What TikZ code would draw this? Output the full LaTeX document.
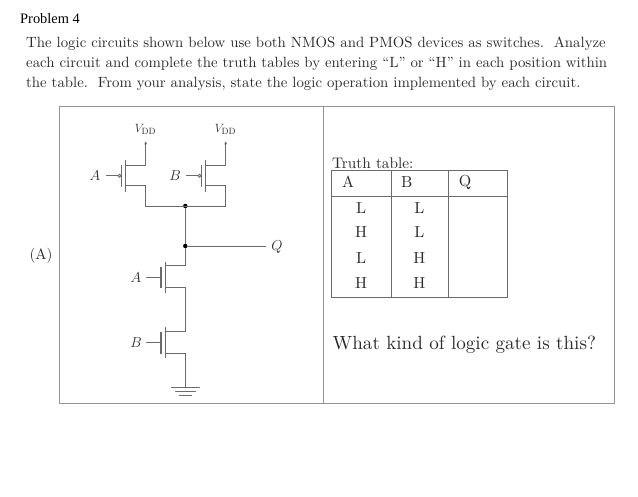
\documentclass[tikz,border=0pt]{standalone}
\usepackage{fontspec}
\setmainfont{lmroman10-regular.otf}
\newfontfamily\timesf{Liberation Serif}
\usetikzlibrary{arrows.meta}
\definecolor{wire}{gray}{0.42}
\definecolor{framec}{gray}{0.58}
\definecolor{ink}{gray}{0.17}
\tikzset{
  wireline/.style={draw=wire,line width=1pt,line cap=round,line join=miter},
  thickbar/.style={draw=wire,line width=1.5pt},
  framebox/.style={draw=framec,line width=1.2pt},
  gridline/.style={draw=wire,line width=1pt},
  junction/.style={circle,fill=black,inner sep=0pt,minimum size=4.5pt},
  lab/.style={inner sep=0pt,text=ink},
  cell/.style={inner sep=0pt,text=ink,font=\fontsize{16}{18}\selectfont},
  para/.style={inner sep=0pt,text=ink,anchor=base west,font=\fontsize{14.83}{17}\selectfont},
  supply/.style={wireline,-{Stealth[length=3pt,width=3pt]}},
  mathlab/.style={lab,font=\fontsize{14}{16}\selectfont},
}
\begin{document}
\begin{tikzpicture}[x=1pt,y=-1pt]
\useasboundingbox[fill=white] (0,0) rectangle (638,496);
% text
\node[lab,anchor=base west,font=\timesf\fontsize{14.4}{16}\selectfont,text=black] (title) at (20,23) {Problem 4};
\node[para] (l1) at (26,47.5) {The logic circuits shown below use both NMOS and PMOS devices as switches.\ \ Analyze};
\node[para] (l2) at (26,67.5) {each circuit and complete the truth tables by entering “L” or “H” in each position within};
\node[para] (l3) at (26,87.5) {the table.\ \ From your analysis, state the logic operation implemented by each circuit.};
% frame
\draw[framebox] (59.5,106.5) rectangle (614.5,403.6);
\draw[framebox] (323.5,106.5) -- (323.5,403.6);
\node[lab,font=\fontsize{15}{17}\selectfont] (caseA) at (41,256) {(A)};
% PMOS A
\coordinate (vddA) at (145.7,141.5);
\coordinate (dA1) at (145.7,165);
\coordinate (cA1) at (125.7,165);
\coordinate (cA2) at (125.7,185.7);
\coordinate (dA2) at (145.7,185.7);
\coordinate (busL) at (145.7,206);
\coordinate (busR) at (225.7,206);
% PMOS B
\coordinate (vddB) at (225.7,141.5);
\coordinate (dB1) at (225.7,165);
\coordinate (cB1) at (205.7,165);
\coordinate (cB2) at (205.7,185.7);
\coordinate (dB2) at (225.7,185.7);
\node[junction] (top) at (185.3,206) {};
\node[junction] (out) at (185.3,246) {};
\coordinate (qend) at (265.7,246);
\draw[supply] (dA1) -- (vddA);
\draw[supply] (dB1) -- (vddB);
\draw[wireline] (cA1) -- (dA1);
\draw[wireline] (cB1) -- (dB1);
\draw[wireline] (cA2) -- (dA2) -- (busL) -- (busR) -- (dB2) -- (cB2);
\draw[wireline] (top) -- (out);
\draw[wireline] (out) -- (qend);
\draw[thickbar] (125.7,160) -- (125.7,191.7);
\draw[thickbar] (205.7,160) -- (205.7,191.7);
\draw[thickbar] (121.7,165) -- (121.7,187);
\draw[thickbar] (201.7,165) -- (201.7,187);
\draw[wireline] (106.5,175.7) -- (117.5,175.7);
\draw[wireline] (186.5,175.7) -- (197.5,175.7);
\draw[wire,line width=0.8pt] (119.5,175.7) circle (1.5);
\draw[wire,line width=0.8pt] (199.5,175.7) circle (1.5);
\node[mathlab] (lA1) at (95,176) {$A$};
\node[mathlab] (lB1) at (175,176) {$B$};
\node[lab,font=\fontsize{13}{15}\selectfont] (v1) at (145.5,129) {$V_{\mathrm{DD}}$};
\node[lab,font=\fontsize{13}{15}\selectfont] (v2) at (225.5,129) {$V_{\mathrm{DD}}$};
\node[mathlab] (lQ) at (277,246.5) {$Q$};
% NMOS stack
\coordinate (n1t) at (185.3,265.7);
\coordinate (n1c) at (165.7,265.7);
\coordinate (n1b) at (185.3,287.7);
\coordinate (n1d) at (165.7,287.7);
\coordinate (n2t) at (185.3,331.7);
\coordinate (n2c) at (165.7,331.7);
\coordinate (n2b) at (185.3,353.3);
\coordinate (n2d) at (165.7,353.3);
\coordinate (gnd) at (185.3,387);
\draw[wireline] (out) -- (n1t) -- (n1c);
\draw[wireline] (n1d) -- (n1b) -- (n2t) -- (n2c);
\draw[wireline] (n2d) -- (n2b) -- (gnd);
\draw[thickbar] (165.7,261.7) -- (165.7,292.7);
\draw[thickbar] (165.7,327.3) -- (165.7,357.7);
\draw[thickbar] (161,266.7) -- (161,288.3);
\draw[thickbar] (161,332.3) -- (161,354);
\draw[wireline] (146.7,277.3) -- (161,277.3);
\draw[wireline] (146.7,342.5) -- (161,342.5);
\node[mathlab] (lA2) at (136,277.5) {$A$};
\node[mathlab] (lB2) at (136,343) {$B$};
\draw[wireline] (171.5,387) -- (199.5,387);
\draw[wireline] (175.5,391) -- (195.5,391);
\draw[wireline] (179.5,395) -- (191.5,395);
% table
\node[lab,anchor=base west,font=\fontsize{15.3}{17}\selectfont] (tt) at (332,168.5) {Truth table:};
\draw[gridline] (331.7,170) rectangle (507.7,297.3);
\draw[gridline] (331.7,196) -- (507.7,196);
\draw[gridline] (391,170) -- (391,297.3);
\draw[gridline] (448.7,170) -- (448.7,297.3);
\node[cell] (hA) at (348,182) {A};
\node[cell] (hB) at (406.7,182) {B};
\node[cell] (hQ) at (465,182) {Q};
\node[cell] (a1) at (361,208.5) {L};
\node[cell] (b1) at (419.3,208.5) {L};
\node[cell] (a2) at (361,232) {H};
\node[cell] (b2) at (419.3,232) {L};
\node[cell] (a3) at (361,258) {L};
\node[cell] (b3) at (419.3,258) {H};
\node[cell] (a4) at (361,283.5) {H};
\node[cell] (b4) at (419.3,283.5) {H};
\node[lab,anchor=base west,font=\fontsize{19.1}{23}\selectfont] (q) at (332.5,349) {What kind of logic gate is this?};
\end{tikzpicture}
\end{document}
